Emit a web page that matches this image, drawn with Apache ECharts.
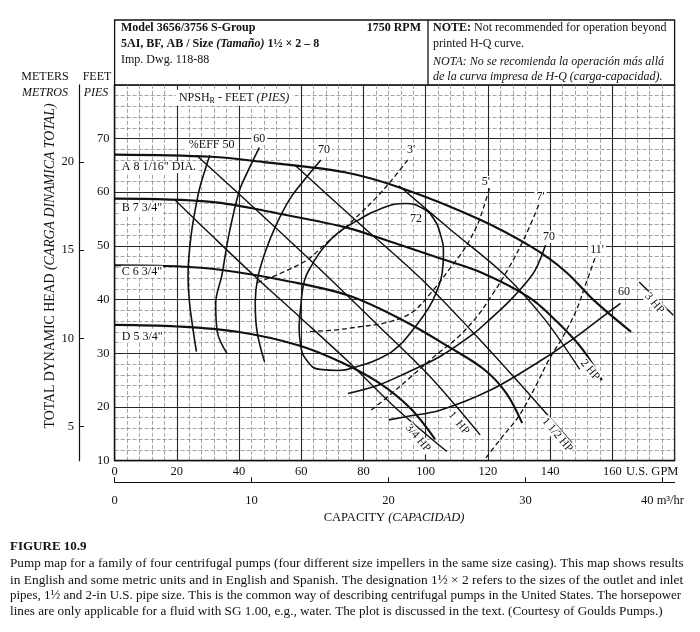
<!DOCTYPE html>
<html><head><meta charset="utf-8">
<script src="https://cdn.jsdelivr.net/npm/echarts@6/dist/echarts.min.js"></script>
<style>html,body{margin:0;padding:0;background:#fff}#c{width:700px;height:632px}</style>
</head><body><div id="c"></div>
<script>
// ---------- axes / ticks ----------
const FT_PER_M = 3.28084;
const GPM_PER_M3H = 4.40287;
const gpmTicks = [0, 20, 40, 60, 80, 100, 120, 140, 160];
const m3hTicks = [0, 10, 20, 30, 40];
const feetTicks = [10, 20, 30, 40, 50, 60, 70];
const meterTicks = [5, 10, 15, 20];

// ---------- H-Q curves (GPM, ft) ----------
const headA = [[0,67],[31,66.6],[48,65.6],[74,63.7],[93,60.6],[117,55],[134,49.8],[145,45.2],[154,39.9],[166,34]];
const headB = [[0,58.8],[31,58.2],[53,56],[74,53.5],[84,51.7],[105,47.6],[118,45],[133,40.5],[142,36],[150.6,30.6],[156.6,25]];
const headC = [[0,46.4],[20,46.2],[34.5,45.5],[55,43.5],[75,40.8],[92.5,36.2],[108,31],[119,26.9],[126,22.5],[131,17]];
const headD = [[0,35.3],[20,35],[39.5,34],[59,31.5],[73,28.3],[85,24.5],[95,19.8],[103,14]];

// ---------- horsepower lines ----------
const hp075 = [[19.5,58.5],[32,51.5],[44.6,44.6],[60,36.5],[75,28.5],[90,20],[106.8,11.7]];
const hp1   = [[26.3,66.9],[45,57],[65,46.2],[85,35],[100,26.5],[110,20],[117.5,14.8]];
const hp15  = [[58,65],[78,54.5],[99,43.6],[115,34],[130,24.5],[147,13.3]];
const hp2   = [[91.4,61.2],[108,53],[125.4,44.6],[138,36.5],[149.5,27]];
const hp3   = [[168.6,43.3],[179.6,37.1]];

// ---------- efficiency curves ----------
const eff50  = [[30.6,66.9],[28.2,62.5],[26.8,59.4],[24.6,52],[23.6,44.5],[24.1,39.3],[26.3,30.3]];
const eff60L = [[46.5,68.3],[42.5,63.5],[40,60.1],[36.7,52],[34.5,44.6],[32.5,39.3],[33,34],[36.1,30]];
const eff70L = [[66.3,66],[61,62.3],[56.4,58.8],[52,54],[48.5,49],[46,44],[45.2,39.5],[45.8,34],[48.2,28.4]];
const eff70R = [[138.5,50.1],[135.2,45.5],[131,42.3],[126,39.2],[120,36],[115.5,33.7],[104.6,29.4],[93.6,26.3],[84.9,24.1],[75,22.5]];
const eff60R = [[162.6,39.3],[155,36],[148.4,33.1],[137.4,28.8],[121,23.2],[104.6,19.4],[93.6,18.2],[88.1,17.6]];
const eff72  = [[59.3,35],[59.8,38.5],[61,43.5],[63.5,46.5],[67.3,49.8],[72,52.5],[78.3,54.8],[85,56.8],[93.6,57.9],[99,57],[102.4,55.2],[104.8,52],[105.7,48.5],[105.3,45],[103.5,41.5],[101,38.5],[96,34.5],[91,31.2],[85,29],[78.3,27.6],[72,26.8],[66,27],[62,28.5],[59.8,31.5],[59.3,35]];

// ---------- NPSHr curves ----------
const npsh3  = [[94.2,66],[89,62.2],[83.8,58.8],[75,53.9],[68,50.5],[61.9,47.4],[53,44.8],[45,43]];
const npsh5  = [[120.5,60.7],[118.5,57],[116.6,53.9],[112.5,49.5],[107.8,45.8],[102,41.5],[95.8,37.7],[88,35.8],[78.3,34.9],[70,34.3],[61.5,34]];
const npsh7  = [[136.3,57.6],[132,51.8],[127,46.2],[121.5,41],[116,36.5],[110,32.8],[104,30],[95,25.5],[88,22],[82,19.2]];
const npsh11 = [[154.4,47.7],[151.5,43],[148.4,38],[144,33],[139.6,28.8],[135,23.5],[129.8,18.2],[124,14],[118.8,10.1]];

// ---------- labels (text + anchor in GPM / ft) ----------
const curveNames = ['A 8 1/16" DIA.', 'B 7 3/4"', 'C 6 3/4"', 'D 5 3/4"'];
const curveNameAt = [[2,64.7],[2,57],[2,45.2],[2,33.1]];
const effLabels = ['%EFF 50', '60', '70', '72', '70', '60'];
const effLabelAt = [[31.2,68.75],[46.5,70],[67.3,67.8],[96.9,55.1],[139.6,51.7],[163.7,41.5]];
const npshLabels = ["3'", "5'", "7'", "11'"];
const npshLabelAt = [[95.3,67.8],[119.3,61.9],[136.9,59.1],[155.1,49.2]];
const hpLabels = ['3/4 HP', '1  HP', '1 1/2 HP', '2 HP', '3 HP'];
const hpLabelAt = [[97.5,14.2],[110.6,17.0],[142.3,14.8],[152.8,26.9],[173.5,39.3]];
const npshTitleAt = [38.4, 77.6];

const FONT = '"Liberation Serif", "Times New Roman", serif';
const INK = '#111111';
const GRID_L = 114.6, GRID_T = 84.8, GRID_W = 560, GRID_H = 375.9;

function lineSeries(data, width, dashed, smooth) {
  return { type: 'line', data: data, symbol: 'none', smooth: smooth === undefined ? 0.35 : smooth,
    silent: true, z: 3,
    lineStyle: { color: INK, width: width, type: dashed ? [5, 3] : 'solid' } };
}

const chart = echarts.init(document.getElementById('c'), null, { renderer: 'canvas' });

const staticGraphic = [
  { type: 'rect', shape: { x: GRID_L, y: 20, width: GRID_W, height: GRID_T - 20 }, style: { fill: '#fff', stroke: INK, lineWidth: 1.3 } },
  { type: 'line', shape: { x1: 428, y1: 20, x2: 428, y2: GRID_T }, style: { stroke: INK, lineWidth: 1.3 } },
  { type: 'text', x: 121, y: 28, style: { text: 'Model 3656/3756 S-Group', fontFamily: FONT, fontSize: 12, fontWeight: 'bold', fill: INK, verticalAlign: 'middle' } },
  { type: 'text', x: 421, y: 28, style: { text: '1750 RPM', fontFamily: FONT, fontSize: 12, fontWeight: 'bold', fill: INK, align: 'right', verticalAlign: 'middle' } },
  { type: 'text', x: 121, y: 44, style: { text: '{b|5AI, BF, AB / Size }{bi|(Tamaño)}{b| 1½ × 2 – 8}', verticalAlign: 'middle',
      rich: { b: { fontFamily: FONT, fontSize: 12, fontWeight: 'bold', fill: INK }, bi: { fontFamily: FONT, fontSize: 12, fontWeight: 'bold', fontStyle: 'italic', fill: INK } } } },
  { type: 'text', x: 121, y: 60, style: { text: 'Imp. Dwg. 118-88', fontFamily: FONT, fontSize: 12, fill: INK, verticalAlign: 'middle' } },
  { type: 'text', x: 433, y: 28, style: { text: '{b|NOTE:}{r| Not recommended for operation beyond}', verticalAlign: 'middle',
      rich: { b: { fontFamily: FONT, fontSize: 12, fontWeight: 'bold', fill: INK }, r: { fontFamily: FONT, fontSize: 12, fill: INK } } } },
  { type: 'text', x: 433, y: 44, style: { text: 'printed H-Q curve.', fontFamily: FONT, fontSize: 12, fill: INK, verticalAlign: 'middle' } },
  { type: 'text', x: 433, y: 62, style: { text: 'NOTA: No se recomienda la operación más allá', fontFamily: FONT, fontSize: 12, fontStyle: 'italic', fill: INK, verticalAlign: 'middle' } },
  { type: 'text', x: 433, y: 77, style: { text: 'de la curva impresa de H-Q (carga-capacidad).', fontFamily: FONT, fontSize: 12, fontStyle: 'italic', fill: INK, verticalAlign: 'middle' } },
  { type: 'text', x: 45, y: 77, style: { text: 'METERS', fontFamily: FONT, fontSize: 12, fill: INK, align: 'center', verticalAlign: 'middle' } },
  { type: 'text', x: 97, y: 77, style: { text: 'FEET', fontFamily: FONT, fontSize: 12, fill: INK, align: 'center', verticalAlign: 'middle' } },
  { type: 'text', x: 45, y: 92.5, style: { text: 'METROS', fontFamily: FONT, fontSize: 12, fontStyle: 'italic', fill: INK, align: 'center', verticalAlign: 'middle' } },
  { type: 'text', x: 96, y: 92.5, style: { text: 'PIES', fontFamily: FONT, fontSize: 12, fontStyle: 'italic', fill: INK, align: 'center', verticalAlign: 'middle' } },
  { type: 'text', x: 50, y: 266, rotation: Math.PI / 2, style: { text: '{n|TOTAL DYNAMIC HEAD }{i|(CARGA DINAMICA TOTAL)}', align: 'center', verticalAlign: 'middle',
      rich: { n: { fontFamily: FONT, fontSize: 13.8, fill: INK }, i: { fontFamily: FONT, fontSize: 13.8, fontStyle: 'italic', fill: INK } } } },
  { type: 'text', x: 626, y: 472, style: { text: 'U.S. GPM', fontFamily: FONT, fontSize: 12.5, fill: INK, verticalAlign: 'middle' } },
  { type: 'text', x: 394, y: 518, style: { text: '{n|CAPACITY }{i|(CAPACIDAD)}', align: 'center', verticalAlign: 'middle',
      rich: { n: { fontFamily: FONT, fontSize: 12.5, fill: INK }, i: { fontFamily: FONT, fontSize: 12.5, fontStyle: 'italic', fill: INK } } } },
  { type: 'text', x: 10, y: 547, style: { text: 'FIGURE 10.9', fontFamily: FONT, fontSize: 13, fontWeight: 'bold', fill: INK, verticalAlign: 'middle' } },
  { type: 'text', x: 10, y: 564, style: { text: 'Pump map for a family of four centrifugal pumps (four different size impellers in the same size casing). This map shows results', fontFamily: FONT, fontSize: 13.2, fill: INK, verticalAlign: 'middle' } },
  { type: 'text', x: 10, y: 580, style: { text: 'in English and some metric units and in English and Spanish. The designation 1½ × 2 refers to the sizes of the outlet and inlet', fontFamily: FONT, fontSize: 13.4, fill: INK, verticalAlign: 'middle' } },
  { type: 'text', x: 10, y: 596, style: { text: 'pipes, 1½ and 2-in U.S. pipe size. This is the common way of describing centrifugal pumps in the United States. The horsepower', fontFamily: FONT, fontSize: 13.0, fill: INK, verticalAlign: 'middle' } },
  { type: 'text', x: 10, y: 612, style: { text: 'lines are only applicable for a fluid with SG 1.00, e.g., water. The plot is discussed in the text. (Courtesy of Goulds Pumps.)', fontFamily: FONT, fontSize: 13.2, fill: INK, verticalAlign: 'middle' } }
];

const option = {
  animation: false,
  backgroundColor: '#fff',
  grid: { left: GRID_L, top: GRID_T, width: GRID_W, height: GRID_H, show: true, borderColor: INK, borderWidth: 1.3, backgroundColor: 'rgba(0,0,0,0)' },
  xAxis: [
    { type: 'value', min: 0, max: 180, interval: 20, position: 'bottom',
      axisLine: { show: true, lineStyle: { color: INK, width: 1.3 } },
      axisTick: { show: false },
      axisLabel: { margin: 5, color: INK, fontFamily: FONT, fontSize: 12.5,
        formatter: v => gpmTicks.indexOf(v) >= 0 ? String(v) : '' },
      splitLine: { show: true, lineStyle: { color: '#262626', width: 1.1 } },
      minorTick: { show: false, splitNumber: 5 },
      minorSplitLine: { show: true, lineStyle: { color: '#8c8c8c', width: 0.8, type: [4, 2] } } },
    { type: 'value', min: 0, max: 180 / GPM_PER_M3H, position: 'bottom', offset: 21.5,
      axisLine: { show: true, onZero: false, lineStyle: { color: INK, width: 1.2 } },
      axisTick: { show: true, inside: true, length: 5, customValues: m3hTicks, lineStyle: { color: INK } },
      axisLabel: { margin: 12, color: INK, fontFamily: FONT, fontSize: 12.5, customValues: m3hTicks,
        formatter: v => (v === 40 ? '40 m³/hr' : String(v)) },
      splitLine: { show: false } }
  ],
  yAxis: [
    { type: 'value', min: 10, max: 80, interval: 10, position: 'left',
      axisLine: { show: true, lineStyle: { color: INK, width: 1.3 } },
      axisTick: { show: false },
      axisLabel: { margin: 5, color: INK, fontFamily: FONT, fontSize: 12.5,
        formatter: v => feetTicks.indexOf(v) >= 0 ? String(v) : '' },
      splitLine: { show: true, lineStyle: { color: '#262626', width: 1.1 } },
      minorTick: { show: false, splitNumber: 5 },
      minorSplitLine: { show: true, lineStyle: { color: '#8c8c8c', width: 0.8, type: [4, 2] } } },
    { type: 'value', min: 10 / FT_PER_M, max: 80 / FT_PER_M, position: 'left', offset: 35.6,
      axisLine: { show: true, onZero: false, lineStyle: { color: INK, width: 1.2 } },
      axisTick: { show: true, inside: true, length: 5, customValues: meterTicks, lineStyle: { color: INK } },
      axisLabel: { margin: 5, color: INK, fontFamily: FONT, fontSize: 12.5, customValues: meterTicks },
      splitLine: { show: false } }
  ],
  series: [
    lineSeries(headA, 2.1), lineSeries(headB, 2.1), lineSeries(headC, 2.1), lineSeries(headD, 2.1),
    lineSeries(hp075, 1.4), lineSeries(hp1, 1.4), lineSeries(hp15, 1.4), lineSeries(hp2, 1.4), lineSeries(hp3, 1.4),
    lineSeries(eff50, 1.6), lineSeries(eff60L, 1.6), lineSeries(eff70L, 1.6),
    lineSeries(eff70R, 1.6), lineSeries(eff60R, 1.6), lineSeries(eff72, 1.6, false, 0.5),
    lineSeries(npsh3, 1.3, true), lineSeries(npsh5, 1.3, true), lineSeries(npsh7, 1.3, true), lineSeries(npsh11, 1.3, true)
  ],
  graphic: staticGraphic
};
chart.setOption(option);

// ---------- in-plot labels placed through the chart's own scales ----------
const toPx = p => chart.convertToPixel({ xAxisIndex: 0, yAxisIndex: 0 }, p);
const textStyle = (t, extra) => Object.assign({ text: t, fontFamily: FONT, fontSize: 12, fill: INK,
  backgroundColor: '#fff', padding: [0, 2], verticalAlign: 'middle' }, extra || {});
const dyn = [];
curveNames.forEach((t, i) => { const p = toPx(curveNameAt[i]); dyn.push({ type: 'text', x: p[0], y: p[1], z: 50, style: textStyle(t, { align: 'left', padding: [0, 1] }) }); });
effLabels.forEach((t, i) => { const p = toPx(effLabelAt[i]); dyn.push({ type: 'text', x: p[0], y: p[1], z: 50, style: textStyle(t, { align: 'center' }) }); });
npshLabels.forEach((t, i) => { const p = toPx(npshLabelAt[i]); dyn.push({ type: 'text', x: p[0], y: p[1], z: 50, style: textStyle(t, { align: 'center' }) }); });
hpLabels.forEach((t, i) => { const p = toPx(hpLabelAt[i]); dyn.push({ type: 'text', x: p[0], y: p[1], z: 50, rotation: -50 * Math.PI / 180,
  style: textStyle(t, { align: 'center', fontSize: 11.5, padding: [0, 1] }) }); });
(function () {
  const p = toPx(npshTitleAt);
  dyn.push({ type: 'text', x: p[0], y: p[1], z: 50, style: { text: '{a|NPSH}{s|R}{a| - FEET }{i|(PIES)}', align: 'center', verticalAlign: 'middle',
    backgroundColor: '#fff', padding: [1, 3],
    rich: { a: { fontFamily: FONT, fontSize: 12, fill: INK },
            s: { fontFamily: FONT, fontSize: 8, fill: INK, padding: [6, 0, 0, 0] },
            i: { fontFamily: FONT, fontSize: 12, fontStyle: 'italic', fill: INK } } } });
})();
chart.setOption({ graphic: staticGraphic.concat(dyn) });
</script>
</body></html>
